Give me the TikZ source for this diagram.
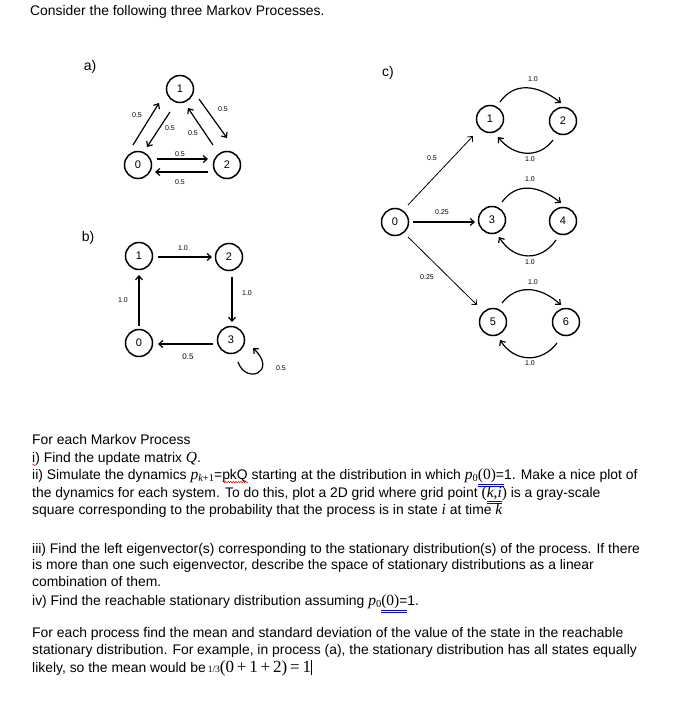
\documentclass[tikz,border=0pt]{standalone}
\usepackage{fontspec}
\setmainfont{Liberation Sans}
\newfontfamily\mth{Liberation Serif}
\usetikzlibrary{arrows.meta,calc,decorations.pathmorphing}
\newsavebox{\wvbox}
\newcommand{\wv}[1]{\sbox{\wvbox}{#1}\rlap{\tikz[baseline=0pt,x=1pt,y=1pt]{\path (0,0); \draw[red,line width=0.5pt,decorate,decoration={snake,amplitude=0.7pt,segment length=2.5pt}] (0,-3) -- (\the\wd\wvbox,-3);}}\usebox{\wvbox}}
\newcommand{\du}[1]{\textcolor{blue}{\underline{\underline{\textcolor{black}{#1}}}}}
\newcommand{\mi}[1]{{\fontsize{15.5}{15}\selectfont\mth\itshape #1}}
\newcommand{\mr}[1]{{\fontsize{15.5}{15}\selectfont\mth #1}}
\newcommand{\msub}[1]{\raisebox{-2pt}{\fontsize{10.5}{10}\selectfont\mth #1}}
\begin{document}
\begin{tikzpicture}[x=1pt,y=-1pt,
 st/.style={draw,circle,minimum size=27pt,inner sep=0pt,line width=1.5pt,font=\fontsize{11}{11}\selectfont},
 arr/.style={-{Straight Barb[length=4pt,width=7pt]},line width=1.2pt},
 thin arr/.style={-{Straight Barb[length=4pt,width=7pt]},line width=0.8pt},
 lab/.style={font=\fontsize{7}{7}\selectfont,inner sep=0pt},
 hd/.style={font=\fontsize{14}{14}\selectfont,inner sep=0pt},
 txt/.style={anchor=base west,inner sep=0pt,font=\fontsize{13.9}{15}\selectfont}]
\useasboundingbox[fill=white] (0,0) rectangle (692,728);

\node[txt] (title) at (30,16) {Consider the following three Markov Processes.};

% ---------- a)
\node[hd] (la) at (90,67) {a)};
\node[st] (a1) at (180,89) {1};
\node[st] (a0) at (138,165) {0};
\node[st] (a2) at (227,165) {2};
\draw[arr] ($(a0)+(-5,-20)$) -- ($(a1)+(-21,14)$);
\draw[arr] ($(a1)+(-10,23)$) -- ($(a0)+(9,-18)$);
\draw[arr] ($(a1)+(19,10)$) -- ($(a2)+(0,-27)$);
\draw[arr] ($(a2)+(-14,-20)$) -- ($(a1)+(8,19)$);
\draw[arr] ($(a0)+(19,-6)$) -- ($(a2)+(-19,-6)$);
\draw[arr] ($(a2)+(-19,7)$) -- ($(a0)+(17,7)$);
\node[lab] (la01) at (137,115) {0.5};
\node[lab] (la10) at (170,128) {0.5};
\node[lab] (la21) at (193,133) {0.5};
\node[lab] (la12) at (223,109) {0.5};
\node[lab] (la02) at (180,154) {0.5};
\node[lab] (la20) at (180,182) {0.5};

% ---------- b)
\node[hd] (lb) at (88,238) {b)};
\node[st] (b1) at (139,256) {1};
\node[st] (b2) at (229,257) {2};
\node[st] (b0) at (139,343) {0};
\node[st] (b3) at (231,340) {3};
\draw[arr] ($(b1)+(19,1)$) -- ($(b2)+(-17,0)$);
\draw[arr] ($(b2)+(3,20)$) -- ($(b3)+(1,-18)$);
\draw[arr] ($(b3)+(-18,4)$) -- ($(b0)+(19,1)$);
\draw[arr] ($(b0)+(0,-17)$) -- ($(b1)+(0,19)$);
\draw[arr] ($(b3)+(7,22)$) .. controls ($(b3)+(15,45)$) and ($(b3)+(47,32)$) .. ($(b3)+(22,8)$);
\node[lab] (lb12) at (183,248) {1.0};
\node[lab] (lb23) at (247,293) {1.0};
\node[lab,font=\fontsize{8}{8}\selectfont] (lb30) at (188,357) {0.5};
\node[lab] (lb01) at (123,300) {1.0};
\node[lab] (lb33) at (281,368) {0.5};

% ---------- c)
\node[hd] (lc) at (388,73) {c)};
\node[st] (c0) at (395,222) {0};
\node[st] (c1) at (490,119) {1};
\node[st] (c2) at (563,121) {2};
\node[st] (c3) at (492,220) {3};
\node[st] (c4) at (563,221) {4};
\node[st] (c5) at (493,322) {5};
\node[st] (c6) at (566,322) {6};
\draw[thin arr] ($(c0)+(13,-17)$) -- ($(c1)+(-17,17)$);
\draw[arr] ($(c0)+(18,0)$) -- ($(c3)+(-17,2)$);
\draw[thin arr] ($(c0)+(13,15)$) -- ($(c5)+(-16,-17)$);
\draw[arr] ($(c1)+(10,-17)$) .. controls ($(c1)+(24,-37)$) and ($(c2)+(-26,-37)$) .. ($(c2)+(-2,-18)$);
\draw[arr] ($(c2)+(-10,19)$) .. controls ($(c2)+(-24,38)$) and ($(c1)+(24,38)$) .. ($(c1)+(8,18)$);
\draw[arr] ($(c3)+(10,-18)$) .. controls ($(c3)+(24,-37)$) and ($(c4)+(-26,-37)$) .. ($(c4)+(-2,-18)$);
\draw[arr] ($(c4)+(-7,19)$) .. controls ($(c4)+(-22,41)$) and ($(c3)+(22,41)$) .. ($(c3)+(7,17)$);
\draw[arr] ($(c5)+(9,-19)$) .. controls ($(c5)+(23,-37)$) and ($(c6)+(-27,-37)$) .. ($(c6)+(-5,-17)$);
\draw[arr] ($(c6)+(-9,21)$) .. controls ($(c6)+(-24,41)$) and ($(c5)+(22,41)$) .. ($(c5)+(7,18)$);
\node[lab] (lc01) at (432,158) {0.5};
\node[lab] (lc03) at (442,212) {0.25};
\node[lab] (lc05) at (427,277) {0.25};
\node[lab] (lc12) at (533,79) {1.0};
\node[lab] (lc21) at (530,159) {1.0};
\node[lab] (lc34) at (530,179) {1.0};
\node[lab] (lc43) at (530,262) {1.0};
\node[lab] (lc56) at (533,282) {1.0};
\node[lab] (lc65) at (530,363) {1.0};

% ---------- text
\node[txt] (t1) at (32,444) {For each Markov Process};
\node[txt] (t2) at (32,462) {\wv{i}) Find the update matrix \mi{Q}.};
\node[txt] (t3) at (32,479) {ii) Simulate the dynamics \mi{p}\msub{\itshape k\upshape+1}=\wv{pkQ} starting at the distribution in which \mi{p}\msub{0}\du{\mr{(0)}=}1. Make a nice plot of};
\node[txt] (t4) at (32,497) {the dynamics for each system. To do this, plot a 2D grid where grid point \mr{(}\du{\mi{k}\mr{,}\mi{i}}\mr{)} is a gray-scale};
\node[txt] (t5) at (32,514) {square corresponding to the probability that the process is in state \mi{i} at time \mi{k}};
\node[txt] (t6) at (32,553) {iii) Find the left eigenvector(s) corresponding to the stationary distribution(s) of the process. If there};
\node[txt] (t7) at (32,569) {is more than one such eigenvector, describe the space of stationary distributions as a linear};
\node[txt] (t8) at (32,586) {combination of them.};
\node[txt] (t9) at (32,605) {iv) Find the reachable stationary distribution assuming \mi{p}\msub{0}\du{\mr{(0)}=}1.};
\node[txt] (t10) at (32,637) {For each process find the mean and standard deviation of the value of the state in the reachable};
\node[txt] (t11) at (32,654) {stationary distribution. For example, in process (a), the stationary distribution has all states equally};
\node[txt] (t12) at (32,672) {likely, so the mean would be\hspace{2pt}{\fontsize{9.5}{9.5}\selectfont\mth 1/3}{\fontsize{17}{17}\selectfont\mth (0\,+\,1\,+\,2)\,=\,1}\rule[-3pt]{0.6pt}{15pt}};
\end{tikzpicture}
\end{document}
